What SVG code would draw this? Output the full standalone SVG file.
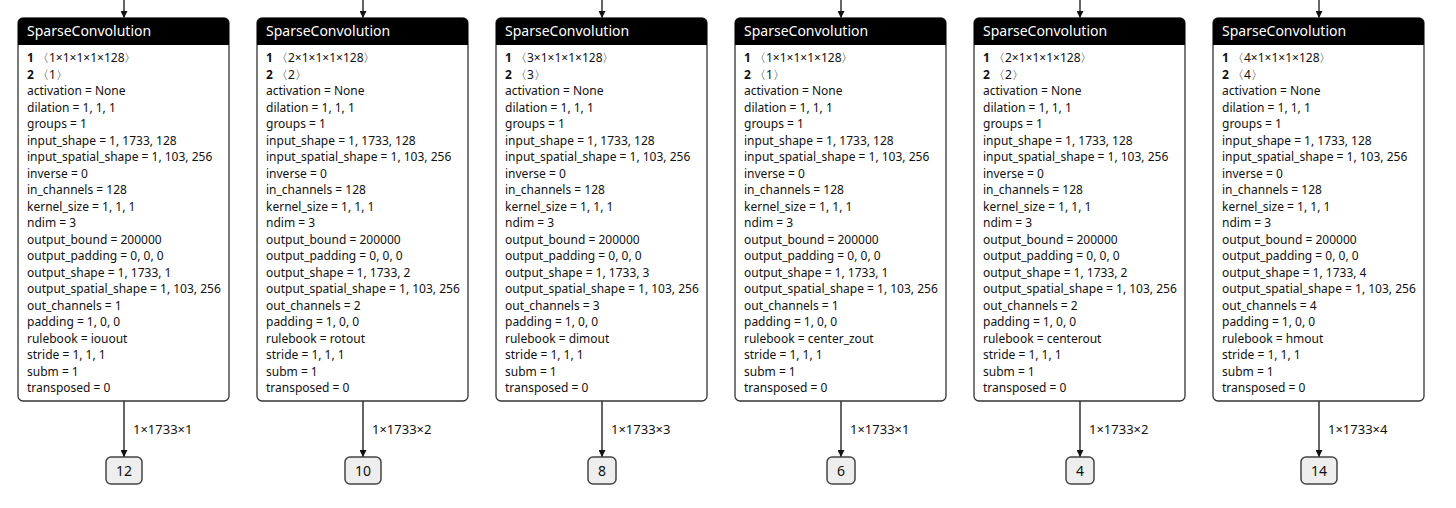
<svg xmlns="http://www.w3.org/2000/svg" width="1456" height="508" viewBox="0 0 1456 508">
<style>
text{font-family:"Noto Sans","DejaVu Sans",sans-serif;font-size:12px;fill:#111}
.box{fill:#fff;stroke:#333;stroke-width:1.3}
.hd{fill:#000}
.ht{fill:#fff;font-size:14px}
.b{font-weight:bold}
.out{fill:#eee;stroke:#444;stroke-width:1.5}
.on{font-size:14px;text-anchor:middle}
.el{font-size:13px}
.e{stroke:#111;stroke-width:1.3;fill:none;marker-end:url(#ah)}
</style>
<defs>
<marker id="ah" viewBox="0 0 10 10" refX="10" refY="5" markerWidth="7" markerHeight="7" orient="auto" markerUnits="userSpaceOnUse"><path d="M0,0L10,5L0,10z" fill="#111"/></marker>
</defs>
<g id="connectors">
<path class="e" d="M124,0V18"/><path class="e" d="M124,401V457"/>
<path class="e" d="M363,0V18"/><path class="e" d="M363,401V457"/>
<path class="e" d="M602,0V18"/><path class="e" d="M602,401V457"/>
<path class="e" d="M841,0V18"/><path class="e" d="M841,401V457"/>
<path class="e" d="M1080,0V18"/><path class="e" d="M1080,401V457"/>
<path class="e" d="M1319,0V18"/><path class="e" d="M1319,401V457"/>
<text class="el" x="133" y="434">1×1733×1</text>
<text class="el" x="372" y="434">1×1733×2</text>
<text class="el" x="611" y="434">1×1733×3</text>
<text class="el" x="850" y="434">1×1733×1</text>
<text class="el" x="1089" y="434">1×1733×2</text>
<text class="el" x="1328" y="434">1×1733×4</text>
</g>
<g id="n1" transform="translate(18,18)">
<rect class="box" width="211" height="383" rx="5"/><path class="hd" d="M5,0H206A5,5 0 0 1 211,5V27H0V5A5,5 0 0 1 5,0z"/>
<text class="ht" x="9" y="18">SparseConvolution</text>
<text x="9" y="44"><tspan class="b">1</tspan> 〈1×1×1×1×128〉<tspan x="9" dy="16.5" class="b">2</tspan> 〈1〉<tspan x="9" dy="16.5">activation = None</tspan><tspan x="9" dy="16.5">dilation = 1, 1, 1</tspan><tspan x="9" dy="16.5">groups = 1</tspan><tspan x="9" dy="16.5">input_shape = 1, 1733, 128</tspan><tspan x="9" dy="16.5">input_spatial_shape = 1, 103, 256</tspan><tspan x="9" dy="16.5">inverse = 0</tspan><tspan x="9" dy="16.5">in_channels = 128</tspan><tspan x="9" dy="16.5">kernel_size = 1, 1, 1</tspan><tspan x="9" dy="16.5">ndim = 3</tspan><tspan x="9" dy="16.5">output_bound = 200000</tspan><tspan x="9" dy="16.5">output_padding = 0, 0, 0</tspan><tspan x="9" dy="16.5">output_shape = 1, 1733, 1</tspan><tspan x="9" dy="16.5">output_spatial_shape = 1, 103, 256</tspan><tspan x="9" dy="16.5">out_channels = 1</tspan><tspan x="9" dy="16.5">padding = 1, 0, 0</tspan><tspan x="9" dy="16.5">rulebook = iouout</tspan><tspan x="9" dy="16.5">stride = 1, 1, 1</tspan><tspan x="9" dy="16.5">subm = 1</tspan><tspan x="9" dy="16.5">transposed = 0</tspan></text>
</g>
<g id="n2" transform="translate(257,18)">
<rect class="box" width="211" height="383" rx="5"/><path class="hd" d="M5,0H206A5,5 0 0 1 211,5V27H0V5A5,5 0 0 1 5,0z"/>
<text class="ht" x="9" y="18">SparseConvolution</text>
<text x="9" y="44"><tspan class="b">1</tspan> 〈2×1×1×1×128〉<tspan x="9" dy="16.5" class="b">2</tspan> 〈2〉<tspan x="9" dy="16.5">activation = None</tspan><tspan x="9" dy="16.5">dilation = 1, 1, 1</tspan><tspan x="9" dy="16.5">groups = 1</tspan><tspan x="9" dy="16.5">input_shape = 1, 1733, 128</tspan><tspan x="9" dy="16.5">input_spatial_shape = 1, 103, 256</tspan><tspan x="9" dy="16.5">inverse = 0</tspan><tspan x="9" dy="16.5">in_channels = 128</tspan><tspan x="9" dy="16.5">kernel_size = 1, 1, 1</tspan><tspan x="9" dy="16.5">ndim = 3</tspan><tspan x="9" dy="16.5">output_bound = 200000</tspan><tspan x="9" dy="16.5">output_padding = 0, 0, 0</tspan><tspan x="9" dy="16.5">output_shape = 1, 1733, 2</tspan><tspan x="9" dy="16.5">output_spatial_shape = 1, 103, 256</tspan><tspan x="9" dy="16.5">out_channels = 2</tspan><tspan x="9" dy="16.5">padding = 1, 0, 0</tspan><tspan x="9" dy="16.5">rulebook = rotout</tspan><tspan x="9" dy="16.5">stride = 1, 1, 1</tspan><tspan x="9" dy="16.5">subm = 1</tspan><tspan x="9" dy="16.5">transposed = 0</tspan></text>
</g>
<g id="n3" transform="translate(496,18)">
<rect class="box" width="211" height="383" rx="5"/><path class="hd" d="M5,0H206A5,5 0 0 1 211,5V27H0V5A5,5 0 0 1 5,0z"/>
<text class="ht" x="9" y="18">SparseConvolution</text>
<text x="9" y="44"><tspan class="b">1</tspan> 〈3×1×1×1×128〉<tspan x="9" dy="16.5" class="b">2</tspan> 〈3〉<tspan x="9" dy="16.5">activation = None</tspan><tspan x="9" dy="16.5">dilation = 1, 1, 1</tspan><tspan x="9" dy="16.5">groups = 1</tspan><tspan x="9" dy="16.5">input_shape = 1, 1733, 128</tspan><tspan x="9" dy="16.5">input_spatial_shape = 1, 103, 256</tspan><tspan x="9" dy="16.5">inverse = 0</tspan><tspan x="9" dy="16.5">in_channels = 128</tspan><tspan x="9" dy="16.5">kernel_size = 1, 1, 1</tspan><tspan x="9" dy="16.5">ndim = 3</tspan><tspan x="9" dy="16.5">output_bound = 200000</tspan><tspan x="9" dy="16.5">output_padding = 0, 0, 0</tspan><tspan x="9" dy="16.5">output_shape = 1, 1733, 3</tspan><tspan x="9" dy="16.5">output_spatial_shape = 1, 103, 256</tspan><tspan x="9" dy="16.5">out_channels = 3</tspan><tspan x="9" dy="16.5">padding = 1, 0, 0</tspan><tspan x="9" dy="16.5">rulebook = dimout</tspan><tspan x="9" dy="16.5">stride = 1, 1, 1</tspan><tspan x="9" dy="16.5">subm = 1</tspan><tspan x="9" dy="16.5">transposed = 0</tspan></text>
</g>
<g id="n4" transform="translate(735,18)">
<rect class="box" width="211" height="383" rx="5"/><path class="hd" d="M5,0H206A5,5 0 0 1 211,5V27H0V5A5,5 0 0 1 5,0z"/>
<text class="ht" x="9" y="18">SparseConvolution</text>
<text x="9" y="44"><tspan class="b">1</tspan> 〈1×1×1×1×128〉<tspan x="9" dy="16.5" class="b">2</tspan> 〈1〉<tspan x="9" dy="16.5">activation = None</tspan><tspan x="9" dy="16.5">dilation = 1, 1, 1</tspan><tspan x="9" dy="16.5">groups = 1</tspan><tspan x="9" dy="16.5">input_shape = 1, 1733, 128</tspan><tspan x="9" dy="16.5">input_spatial_shape = 1, 103, 256</tspan><tspan x="9" dy="16.5">inverse = 0</tspan><tspan x="9" dy="16.5">in_channels = 128</tspan><tspan x="9" dy="16.5">kernel_size = 1, 1, 1</tspan><tspan x="9" dy="16.5">ndim = 3</tspan><tspan x="9" dy="16.5">output_bound = 200000</tspan><tspan x="9" dy="16.5">output_padding = 0, 0, 0</tspan><tspan x="9" dy="16.5">output_shape = 1, 1733, 1</tspan><tspan x="9" dy="16.5">output_spatial_shape = 1, 103, 256</tspan><tspan x="9" dy="16.5">out_channels = 1</tspan><tspan x="9" dy="16.5">padding = 1, 0, 0</tspan><tspan x="9" dy="16.5">rulebook = center_zout</tspan><tspan x="9" dy="16.5">stride = 1, 1, 1</tspan><tspan x="9" dy="16.5">subm = 1</tspan><tspan x="9" dy="16.5">transposed = 0</tspan></text>
</g>
<g id="n5" transform="translate(974,18)">
<rect class="box" width="211" height="383" rx="5"/><path class="hd" d="M5,0H206A5,5 0 0 1 211,5V27H0V5A5,5 0 0 1 5,0z"/>
<text class="ht" x="9" y="18">SparseConvolution</text>
<text x="9" y="44"><tspan class="b">1</tspan> 〈2×1×1×1×128〉<tspan x="9" dy="16.5" class="b">2</tspan> 〈2〉<tspan x="9" dy="16.5">activation = None</tspan><tspan x="9" dy="16.5">dilation = 1, 1, 1</tspan><tspan x="9" dy="16.5">groups = 1</tspan><tspan x="9" dy="16.5">input_shape = 1, 1733, 128</tspan><tspan x="9" dy="16.5">input_spatial_shape = 1, 103, 256</tspan><tspan x="9" dy="16.5">inverse = 0</tspan><tspan x="9" dy="16.5">in_channels = 128</tspan><tspan x="9" dy="16.5">kernel_size = 1, 1, 1</tspan><tspan x="9" dy="16.5">ndim = 3</tspan><tspan x="9" dy="16.5">output_bound = 200000</tspan><tspan x="9" dy="16.5">output_padding = 0, 0, 0</tspan><tspan x="9" dy="16.5">output_shape = 1, 1733, 2</tspan><tspan x="9" dy="16.5">output_spatial_shape = 1, 103, 256</tspan><tspan x="9" dy="16.5">out_channels = 2</tspan><tspan x="9" dy="16.5">padding = 1, 0, 0</tspan><tspan x="9" dy="16.5">rulebook = centerout</tspan><tspan x="9" dy="16.5">stride = 1, 1, 1</tspan><tspan x="9" dy="16.5">subm = 1</tspan><tspan x="9" dy="16.5">transposed = 0</tspan></text>
</g>
<g id="n6" transform="translate(1213,18)">
<rect class="box" width="211" height="383" rx="5"/><path class="hd" d="M5,0H206A5,5 0 0 1 211,5V27H0V5A5,5 0 0 1 5,0z"/>
<text class="ht" x="9" y="18">SparseConvolution</text>
<text x="9" y="44"><tspan class="b">1</tspan> 〈4×1×1×1×128〉<tspan x="9" dy="16.5" class="b">2</tspan> 〈4〉<tspan x="9" dy="16.5">activation = None</tspan><tspan x="9" dy="16.5">dilation = 1, 1, 1</tspan><tspan x="9" dy="16.5">groups = 1</tspan><tspan x="9" dy="16.5">input_shape = 1, 1733, 128</tspan><tspan x="9" dy="16.5">input_spatial_shape = 1, 103, 256</tspan><tspan x="9" dy="16.5">inverse = 0</tspan><tspan x="9" dy="16.5">in_channels = 128</tspan><tspan x="9" dy="16.5">kernel_size = 1, 1, 1</tspan><tspan x="9" dy="16.5">ndim = 3</tspan><tspan x="9" dy="16.5">output_bound = 200000</tspan><tspan x="9" dy="16.5">output_padding = 0, 0, 0</tspan><tspan x="9" dy="16.5">output_shape = 1, 1733, 4</tspan><tspan x="9" dy="16.5">output_spatial_shape = 1, 103, 256</tspan><tspan x="9" dy="16.5">out_channels = 4</tspan><tspan x="9" dy="16.5">padding = 1, 0, 0</tspan><tspan x="9" dy="16.5">rulebook = hmout</tspan><tspan x="9" dy="16.5">stride = 1, 1, 1</tspan><tspan x="9" dy="16.5">subm = 1</tspan><tspan x="9" dy="16.5">transposed = 0</tspan></text>
</g>
<g id="o12"><rect class="out" x="106" y="457" width="36" height="27" rx="5"/><text class="on" x="124" y="476">12</text></g>
<g id="o10"><rect class="out" x="345" y="457" width="36" height="27" rx="5"/><text class="on" x="363" y="476">10</text></g>
<g id="o8"><rect class="out" x="588" y="457" width="28" height="27" rx="5"/><text class="on" x="602" y="476">8</text></g>
<g id="o6"><rect class="out" x="827" y="457" width="28" height="27" rx="5"/><text class="on" x="841" y="476">6</text></g>
<g id="o4"><rect class="out" x="1066" y="457" width="28" height="27" rx="5"/><text class="on" x="1080" y="476">4</text></g>
<g id="o14"><rect class="out" x="1301" y="457" width="36" height="27" rx="5"/><text class="on" x="1319" y="476">14</text></g>
</svg>
